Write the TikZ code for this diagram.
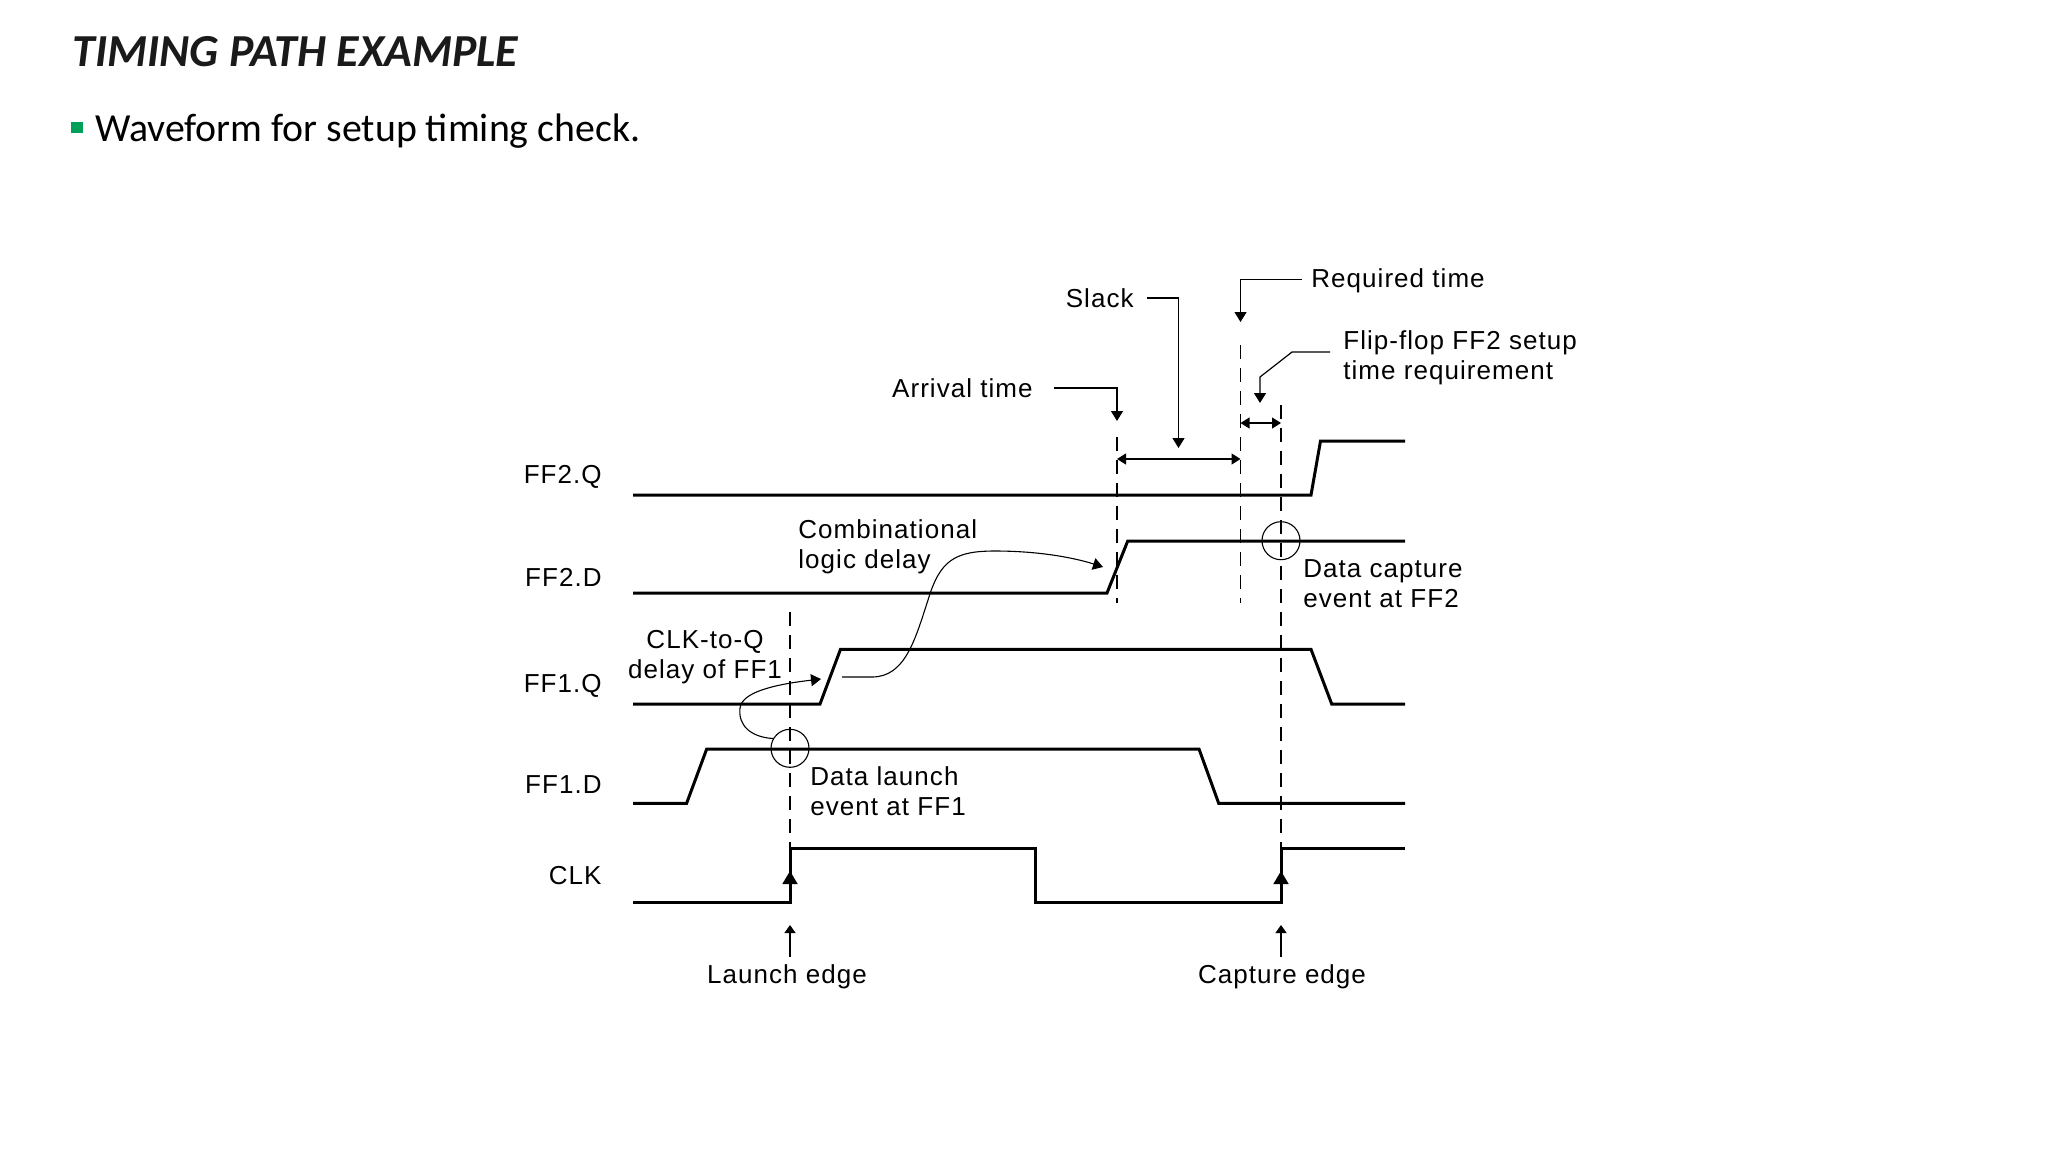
\documentclass[tikz,border=0pt]{standalone}
\usepackage{fontspec}
\setmainfont{Carlito}
\newfontfamily\diagfont[LetterSpace=4]{Liberation Sans}
\usetikzlibrary{arrows.meta}
\definecolor{bulletgreen}{RGB}{0,160,90}
\definecolor{titleink}{RGB}{26,26,26}
\begin{document}
\begin{tikzpicture}[x=0.5pt,y=-0.5pt,
  wave/.style={line width=1.5pt, line join=miter},
  guide/.style={line width=0.85pt, dash pattern=on 7pt off 4.5pt},
  lead/.style={line width=0.6pt},
  curve/.style={line width=0.55pt},
  tipd/.style={-{Triangle[length=5pt,width=6pt]}},
  dbl/.style={{Triangle[length=4.5pt,width=5.5pt]}-{Triangle[length=4.5pt,width=5.5pt]}},
  lbl/.style={font={\diagfont\fontsize{13pt}{15pt}\selectfont}, inner sep=0pt},
  sig/.style={lbl, anchor=east}]
\useasboundingbox[fill=white] (0,0) rectangle (2048,1152);

% heading
\node[anchor=base west, inner sep=0pt, text=titleink,
      font={\fontsize{22.9pt}{27pt}\selectfont\bfseries\itshape}] (title) at (72,66.7) {TIMING PATH EXAMPLE};
\node[fill=bulletgreen, minimum width=5.6pt, minimum height=5.8pt, inner sep=0pt] (bullet) at (77,127.5) {};
\node[anchor=base west, inner sep=0pt, font={\fontsize{19.9pt}{24pt}\selectfont}] (sub) at (94.6,141.7) {Waveform for setup timing check.};

% signal names
\node[sig] (nFFtwoQ) at (602,477) {FF2.Q};
\node[sig] (nFFtwoD) at (602,577) {FF2.D};
\node[sig] (nFFoneQ) at (602,686) {FF1.Q};
\node[sig] (nFFoneD) at (602,785) {FF1.D};
\node[sig] (nCLK) at (602,876) {CLK};

% waveforms
\draw[wave] (633,495) -- (1311,495) -- (1320.5,441) -- (1405,441);
\draw[wave] (633,593) -- (1107,593) -- (1127.7,541) -- (1405,541);
\draw[wave] (633,704) -- (820,704) -- (840.5,649.3) -- (1311,649.3) -- (1331.7,704) -- (1405,704);
\draw[wave] (633,803.3) -- (686.6,803.3) -- (706.7,749) -- (1199,749) -- (1218.7,803.3) -- (1405,803.3);
\draw[wave] (633,902.7) -- (790,902.7) -- (790,848.3) -- (1035,848.3) -- (1035,902.7) -- (1281,902.7) -- (1281,848.3) -- (1405,848.3);

% dashed guide lines
\coordinate (launchTop) at (790,612);
\coordinate (launchBot) at (790,848);
\coordinate (arrTop) at (1117,437);
\coordinate (arrBot) at (1117,603);
\coordinate (reqTop) at (1240.5,345);
\coordinate (reqBot) at (1240.5,603);
\coordinate (capTop) at (1281,405);
\coordinate (capBot) at (1281,848);
\draw[guide] (launchTop) -- (launchBot);
\draw[guide] (arrTop) -- (arrBot);
\draw[guide] (reqTop) -- (reqBot);
\draw[guide] (capTop) -- (capBot);

% event circles
\node[draw, circle, line width=0.55pt, minimum size=19pt, inner sep=0pt] (launchEv) at (790,748.3) {};
\node[draw, circle, line width=0.55pt, minimum size=19pt, inner sep=0pt] (capEv) at (1281,540.7) {};

% clock edge marks
\coordinate (lEdgeA) at (790,888);
\coordinate (lEdgeB) at (790,871);
\coordinate (cEdgeA) at (1281,888);
\coordinate (cEdgeB) at (1281,871);
\draw[line width=0.8pt, -{Triangle[length=6.5pt,width=7.5pt]}] (lEdgeA) -- (lEdgeB);
\draw[line width=0.8pt, -{Triangle[length=6.5pt,width=7.5pt]}] (cEdgeA) -- (cEdgeB);

% edge labels
\node[lbl] (ledge) at (787,977) {Launch edge};
\node[lbl] (cedge) at (1282,977) {Capture edge};
\coordinate (ledgeTip) at (790,925);
\coordinate (cedgeTip) at (1281,925);
\draw[lead, -{Triangle[length=4pt,width=5.5pt]}] ([yshift=4pt]ledge.north -| ledgeTip) -- (ledgeTip);
\draw[lead, -{Triangle[length=4pt,width=5.5pt]}] ([yshift=4pt]cedge.north -| cedgeTip) -- (cedgeTip);

% annotations
\node[lbl, anchor=east] (slackt) at (1134,298) {Slack};
\node[lbl, anchor=west] (reqt) at (1311,280.5) {Required time};
\node[lbl, anchor=west, align=left] (setupt) at (1343,358) {Flip-flop FF2 setup\\time requirement};
\node[lbl, anchor=east] (arrt) at (1033,388) {Arrival time};
\node[lbl, anchor=west, align=left] (combt) at (798,547) {Combinational\\logic delay};
\node[lbl, align=center] (clkqt) at (705,657) {CLK-to-Q\\delay of FF1};
\node[lbl, anchor=west, align=left] (launcht) at (810,791.5) {Data launch\\event at FF1};
\node[lbl, anchor=west, align=left] (capt) at (1303,584) {Data capture\\event at FF2};

\coordinate (arrTip) at (1117,421);
\coordinate (slackTip) at (1178.5,448);
\coordinate (reqTip) at (1240.5,322);
\coordinate (setL) at (1330,352);
\coordinate (setTip) at (1260,403);
\draw[lead, tipd] ([xshift=10.5pt]arrt.east) -| (arrTip);
\draw[lead, tipd] ([xshift=6.5pt]slackt.east) -| (slackTip);
\draw[lead, tipd] ([xshift=-4.5pt,yshift=0.5pt]reqt.west) -| (reqTip);
\draw[lead, tipd] (setL) -- (1292,352) -- (1260,377) -- (setTip);

% slack and setup spans
\coordinate (slackL) at (1117,459);
\coordinate (slackR) at (1240.5,459);
\coordinate (setupL) at (1240.5,423);
\coordinate (setupR) at (1281,423);
\draw[lead, dbl] (slackL) -- (slackR);
\draw[lead, dbl] (setupL) -- (setupR);

% delay curves
\coordinate (combStart) at (842,677);
\coordinate (combTip) at (1103,567);
\draw[curve, tipd] (combStart) -- (872,677) .. controls (905,677) and (915,640) .. (928,600)
   .. controls (940,560) and (955,551) .. (995,551)
   .. controls (1040,551) and (1075,558) .. (combTip);
\coordinate (clkqTip) at (821,679);
\draw[curve, tipd] (launchEv.150) .. controls (750,737) and (738,725) .. (740,708)
   .. controls (742,693) and (770,685) .. (clkqTip);
\end{tikzpicture}
\end{document}
